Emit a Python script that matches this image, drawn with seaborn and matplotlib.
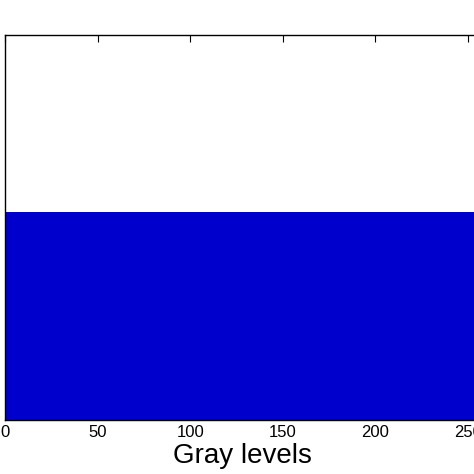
import numpy as np
import pandas as pd
import matplotlib
matplotlib.use("Agg")
import matplotlib.pyplot as plt
import seaborn as sns

# equalized histogram: every gray level has (roughly) the same count
gray_levels = list(range(256))
counts = [1620] * 256
x_ticks = [0, 50, 100, 150, 200, 250]
y_ticks = [0, 500, 1000, 1500, 2000, 2500, 3000]

sns.set_style("white")
plt.rcParams['font.family'] = ['Liberation Sans', 'DejaVu Sans']

df = pd.DataFrame({"level": gray_levels, "count": counts})

fig = plt.figure(figsize=(4.74, 4.74), dpi=100)
ax = fig.add_axes([0.0105, 0.114, 1.0, 0.812])
sns.barplot(data=df, x="level", y="count", native_scale=True, width=1.0,
            color="#0000cc", saturation=1, edgecolor="none", linewidth=0, ax=ax)

ax.set_xlim(0, 256)
ax.set_ylim(0, 3000)
ax.set_xticks(x_ticks)
ax.set_yticks(y_ticks)
ax.tick_params(direction="in", top=True, right=False, length=5, labelsize=12,
               colors="black")
ax.set_xlabel("Gray levels", fontsize=20, labelpad=2, color="black")
ax.set_ylabel("")
for s in ax.spines.values():
    s.set_color("black")
    s.set_linewidth(1.0)

fig.savefig("out.png", dpi=100)
